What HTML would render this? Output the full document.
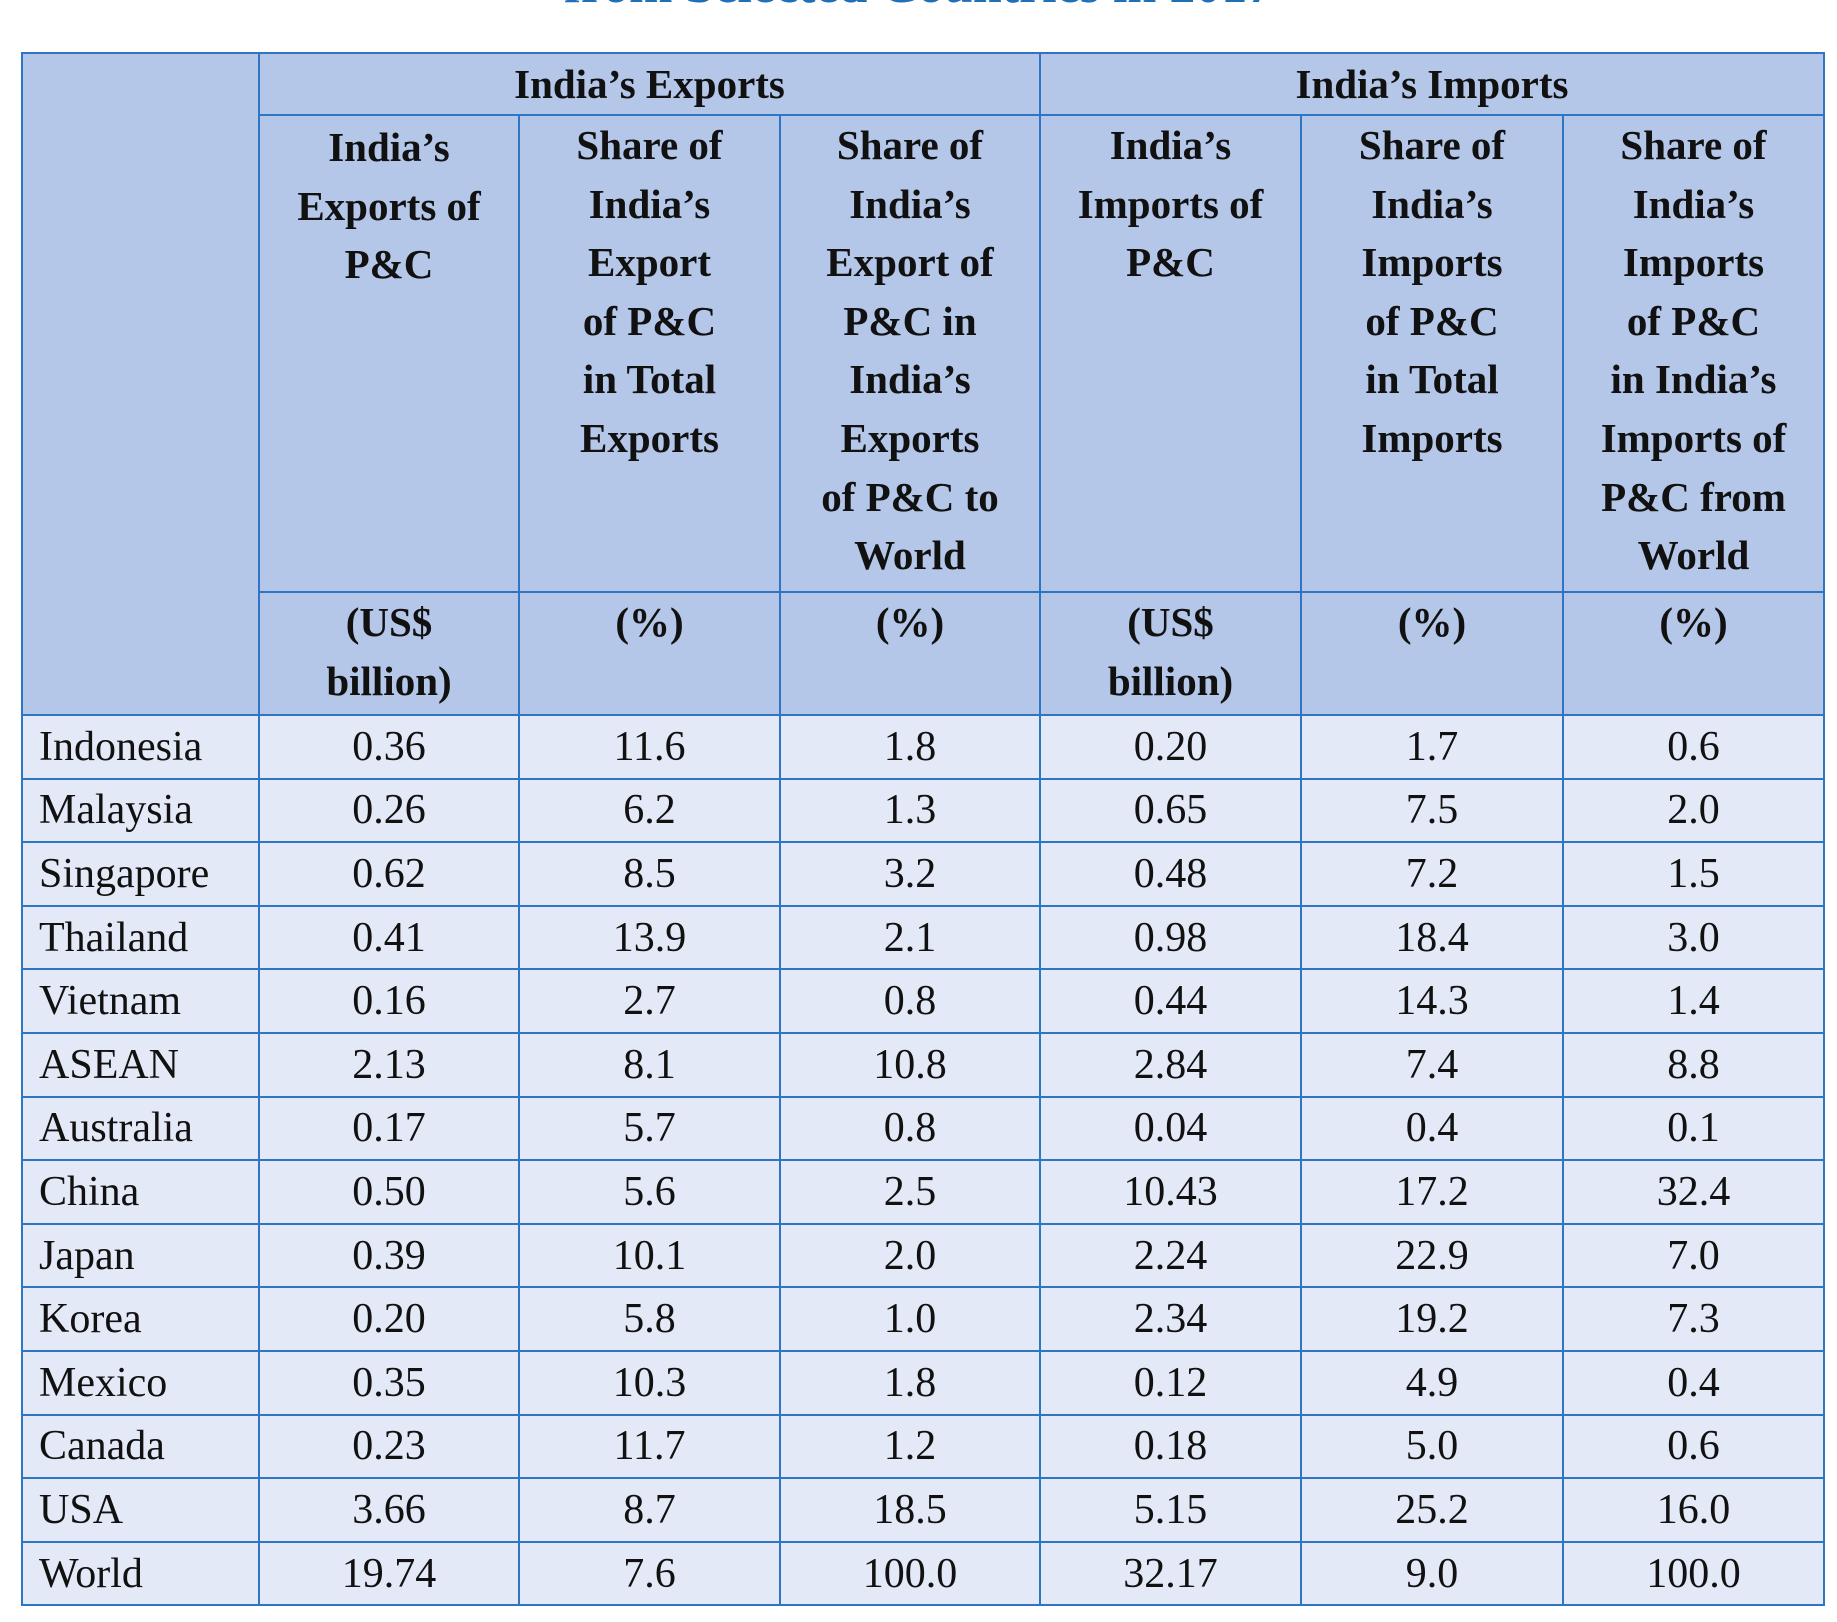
<!DOCTYPE html>
<html><head><meta charset="utf-8"><style>
html,body{margin:0;padding:0;background:#fff;width:1837px;height:1622px;overflow:hidden;position:relative}
.title{position:absolute;left:0;width:1837px;top:-44px;text-align:center;font:bold 52px "Liberation Serif",serif;color:#1f6fb8;white-space:nowrap}
table{position:absolute;left:21px;top:52px;border-collapse:collapse;table-layout:fixed;font-family:"Liberation Serif",serif;font-size:42px;color:#111}
td{border:2.5px solid #2e75c4;padding:0;text-align:center;vertical-align:top;white-space:nowrap;overflow:hidden}
.h td{background:#b4c7e8;font-weight:bold;line-height:58.6px;font-size:41px}
.d td{background:#e3e9f7;height:61.6px;vertical-align:middle;line-height:60px}
.d td:first-child{text-align:left;padding-left:16px}
</style></head><body>
<div class="title">from Selected Countries in 2017</div>
<table>
<colgroup><col style="width:237px"><col style="width:260px"><col style="width:261px"><col style="width:260px"><col style="width:261px"><col style="width:262px"><col style="width:261px"></colgroup>
<tr class="h"><td rowspan="3" style="background:#b4c7e8"></td><td colspan="3" style="height:60px;line-height:60px;vertical-align:middle">India’s Exports</td><td colspan="3" style="line-height:60px;vertical-align:middle">India’s Imports</td></tr>
<tr class="h" style="height:477px"><td style="padding-top:2px">India’s<br>Exports of<br>P&amp;C</td><td>Share of<br>India’s<br>Export<br>of P&amp;C<br>in Total<br>Exports</td><td>Share of<br>India’s<br>Export of<br>P&amp;C in<br>India’s<br>Exports<br>of P&amp;C to<br>World</td><td>India’s<br>Imports of<br>P&amp;C</td><td>Share of<br>India’s<br>Imports<br>of P&amp;C<br>in Total<br>Imports</td><td>Share of<br>India’s<br>Imports<br>of P&amp;C<br>in India’s<br>Imports of<br>P&amp;C from<br>World</td></tr>
<tr class="h" style="height:123px"><td>(US$<br>billion)</td><td>(%)</td><td>(%)</td><td>(US$<br>billion)</td><td>(%)</td><td>(%)</td></tr>
<tr class="d"><td>Indonesia</td><td>0.36</td><td>11.6</td><td>1.8</td><td>0.20</td><td>1.7</td><td>0.6</td></tr>
<tr class="d"><td>Malaysia</td><td>0.26</td><td>6.2</td><td>1.3</td><td>0.65</td><td>7.5</td><td>2.0</td></tr>
<tr class="d"><td>Singapore</td><td>0.62</td><td>8.5</td><td>3.2</td><td>0.48</td><td>7.2</td><td>1.5</td></tr>
<tr class="d"><td>Thailand</td><td>0.41</td><td>13.9</td><td>2.1</td><td>0.98</td><td>18.4</td><td>3.0</td></tr>
<tr class="d"><td>Vietnam</td><td>0.16</td><td>2.7</td><td>0.8</td><td>0.44</td><td>14.3</td><td>1.4</td></tr>
<tr class="d"><td>ASEAN</td><td>2.13</td><td>8.1</td><td>10.8</td><td>2.84</td><td>7.4</td><td>8.8</td></tr>
<tr class="d"><td>Australia</td><td>0.17</td><td>5.7</td><td>0.8</td><td>0.04</td><td>0.4</td><td>0.1</td></tr>
<tr class="d"><td>China</td><td>0.50</td><td>5.6</td><td>2.5</td><td>10.43</td><td>17.2</td><td>32.4</td></tr>
<tr class="d"><td>Japan</td><td>0.39</td><td>10.1</td><td>2.0</td><td>2.24</td><td>22.9</td><td>7.0</td></tr>
<tr class="d"><td>Korea</td><td>0.20</td><td>5.8</td><td>1.0</td><td>2.34</td><td>19.2</td><td>7.3</td></tr>
<tr class="d"><td>Mexico</td><td>0.35</td><td>10.3</td><td>1.8</td><td>0.12</td><td>4.9</td><td>0.4</td></tr>
<tr class="d"><td>Canada</td><td>0.23</td><td>11.7</td><td>1.2</td><td>0.18</td><td>5.0</td><td>0.6</td></tr>
<tr class="d"><td>USA</td><td>3.66</td><td>8.7</td><td>18.5</td><td>5.15</td><td>25.2</td><td>16.0</td></tr>
<tr class="d"><td>World</td><td>19.74</td><td>7.6</td><td>100.0</td><td>32.17</td><td>9.0</td><td>100.0</td></tr>
</table>
</body></html>
